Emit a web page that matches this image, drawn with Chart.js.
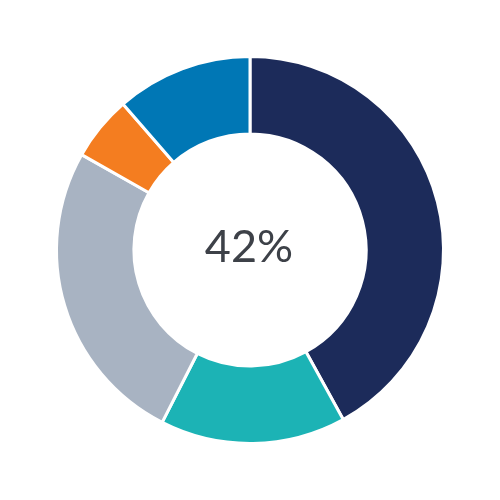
<!DOCTYPE html>
<html>
<head>
<meta charset="utf-8">
<script src="https://cdn.jsdelivr.net/npm/chart.js@4"></script>
<style>
html,body{margin:0;padding:0;background:#fff;}
#wrap{width:500px;height:500px;position:relative;}
</style>
</head>
<body>
<div id="wrap"><canvas id="c" width="500" height="500"></canvas></div>
<script>
const categories = ["Segment A", "Segment B", "Segment C", "Segment D", "Segment E"];
const values = [42, 15.5, 25.7, 5.4, 11.4];
const colors = ["#1c2b5a", "#1cb3b5", "#a8b3c2", "#f47d20", "#0077b5"];
const centerLabel = "42%";

const centerText = {
  id: "centerText",
  afterDraw(chart) {
    const meta = chart.getDatasetMeta(0);
    const arc = meta.data[0];
    const ctx = chart.ctx;
    ctx.save();
    ctx.font = "400 45px Lato";
    ctx.fillStyle = "#3d4148";
    ctx.textAlign = "center";
    ctx.textBaseline = "middle";
    ctx.fillText(centerLabel, arc.x - 1, arc.y - 3);
    ctx.restore();
  }
};

new Chart(document.getElementById("c"), {
  type: "doughnut",
  data: {
    labels: categories,
    datasets: [{
      data: values,
      backgroundColor: colors,
      borderColor: "#ffffff",
      borderWidth: 3
    }]
  },
  options: {
    responsive: false,
    animation: false,
    cutout: "60%",
    layout: { padding: 55 },
    plugins: { legend: { display: false }, tooltip: { enabled: false } }
  },
  plugins: [centerText]
});
</script>
</body>
</html>
